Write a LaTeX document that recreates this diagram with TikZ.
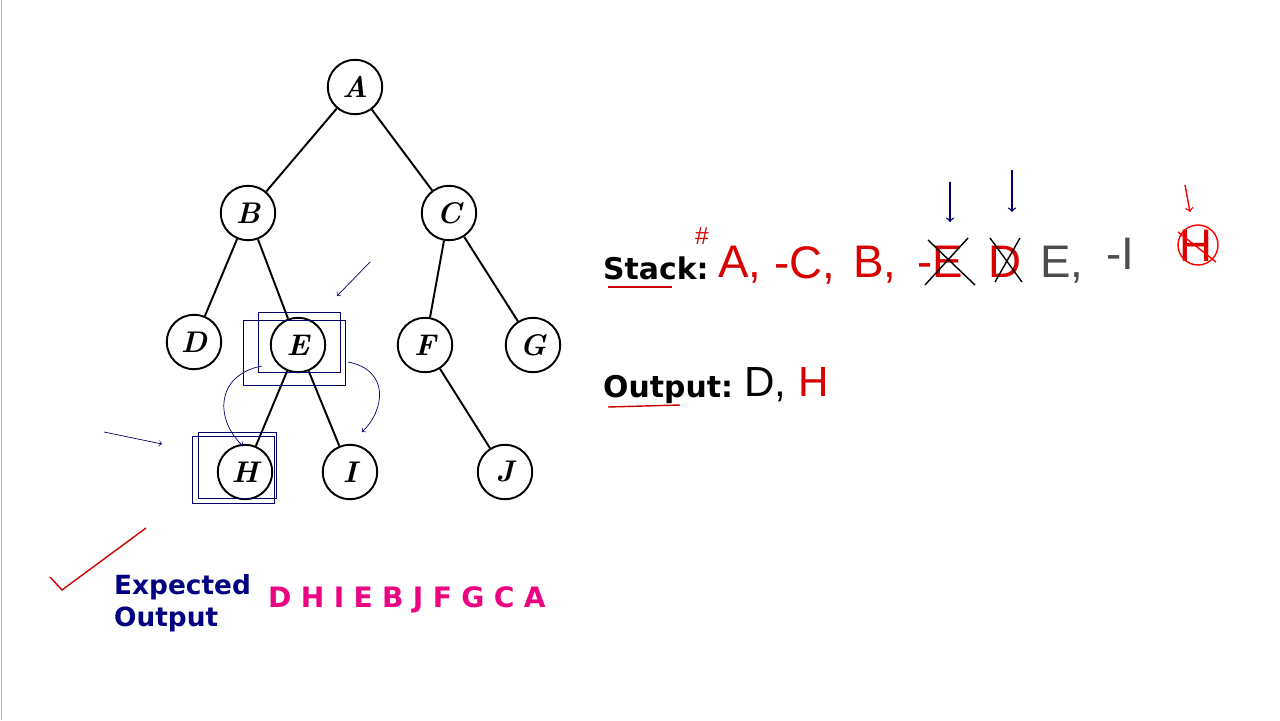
\documentclass[tikz,border=0pt]{standalone}
\usepackage{fontspec}
\newfontfamily\sansf{DejaVu Sans}
\newfontfamily\handf{Liberation Sans}
\begin{document}
\begin{tikzpicture}[x=0.02cm,y=-0.02cm,
  tn/.style={circle,draw,line width=1.1pt,minimum size=31pt,inner sep=0pt,font=\fontsize{17}{17}\selectfont\bfseries\itshape},
  lab/.style={anchor=west,font=\sansf\bfseries\fontsize{17}{17}\selectfont},
  hand/.style={font=\handf\fontsize{26}{26}\selectfont,text=red!85!black},
  ink/.style={draw=blue!40!black,thin}]
\useasboundingbox (0,0) rectangle (1280,720);
\draw[gray!60] (1,0) -- (1,720);
\node[tn] (A) at (355,87) {A};
\node[tn] (B) at (248,213) {B};
\node[tn] (C) at (449,213) {C};
\node[tn] (D) at (194,342) {D};
\node[tn] (E) at (298,345) {E};
\node[tn] (F) at (425,345) {F};
\node[tn] (G) at (533,345) {G};
\node[tn] (H) at (245,472) {H};
\node[tn] (I) at (350,472) {I};
\node[tn] (J) at (505,472) {J};
\draw[line width=1.1pt] (A)--(B) (A)--(C) (B)--(D) (B)--(E) (C)--(F) (C)--(G) (E)--(H) (E)--(I) (F)--(J);
% annotations
\draw[ink] (243,320) rectangle (345,385);
\draw[ink] (258,312) rectangle (340,372);
\draw[ink] (192,436) rectangle (274,503);
\draw[ink] (198,432) rectangle (276,498);
\draw[ink,->] (104,432) -- (162,444);
\draw[ink,->] (370,262) -- (337,296);
\draw[ink,->] (262,366) .. controls (215,375) and (215,420) .. (243,446);
\draw[ink,->] (348,362) .. controls (390,370) and (385,410) .. (362,432);
\draw[red!80!black,thick] (50,577) -- (62,590) -- (146,528);
\node[lab] (st) at (597,268) {Stack:};
\node[lab] (out) at (597,390) {Output:};
\draw[red!80!black,thick] (608,287) -- (672,287);
\draw[red!80!black,thick] (608,407) -- (680,405);
\node[font=\handf\fontsize{14}{14}\selectfont,text=red!85!black] (hs) at (702,236) {\#};
\node[hand] (s1) at (740,265) {A,};
\node[hand] (s2) at (805,265) {-C,};
\node[hand] (s3) at (875,265) {B,};
\node[hand] (s4) at (940,262) {-E};
\node[hand] (s5) at (1005,262) {D};
\node[hand,text=black!70] (s6) at (1062,265) {E,};
\node[hand,text=black!70] (s7) at (1120,254) {-I};
\node[hand] (s8) at (1196,246) {H};
\draw[black,thick] (928,240) -- (975,285) (968,238) -- (925,285);
\draw[black,thick] (990,238) -- (1022,282) (1020,238) -- (995,282);
\draw[red,thick] (1178,232) -- (1216,262);
\draw[->,blue!40!black,thick] (950,182) -- (950,222);
\draw[->,blue!40!black,thick] (1012,170) -- (1012,212);
\draw[->,red,thick] (1185,185) -- (1190,212);
\draw[red,thick] (1198,245) circle (20);
\node[anchor=west,font=\handf\fontsize{24}{24}\selectfont] (ov) at (738,385) {D, \textcolor{red!85!black}{H}};
\node[anchor=west,font=\sansf\bfseries\fontsize{15}{18}\selectfont,text=blue!50!black,align=left] (eo) at (108,603) {Expected\\Output};
\node[anchor=west,font=\sansf\bfseries\fontsize{16}{16}\selectfont,text=magenta!90!red] (ev) at (262,600) {D\,\,H\,\,I\,\,E\,\,B\,\,J\,\,F\,\,G\,\,C\,\,A};
\end{tikzpicture}
\end{document}
